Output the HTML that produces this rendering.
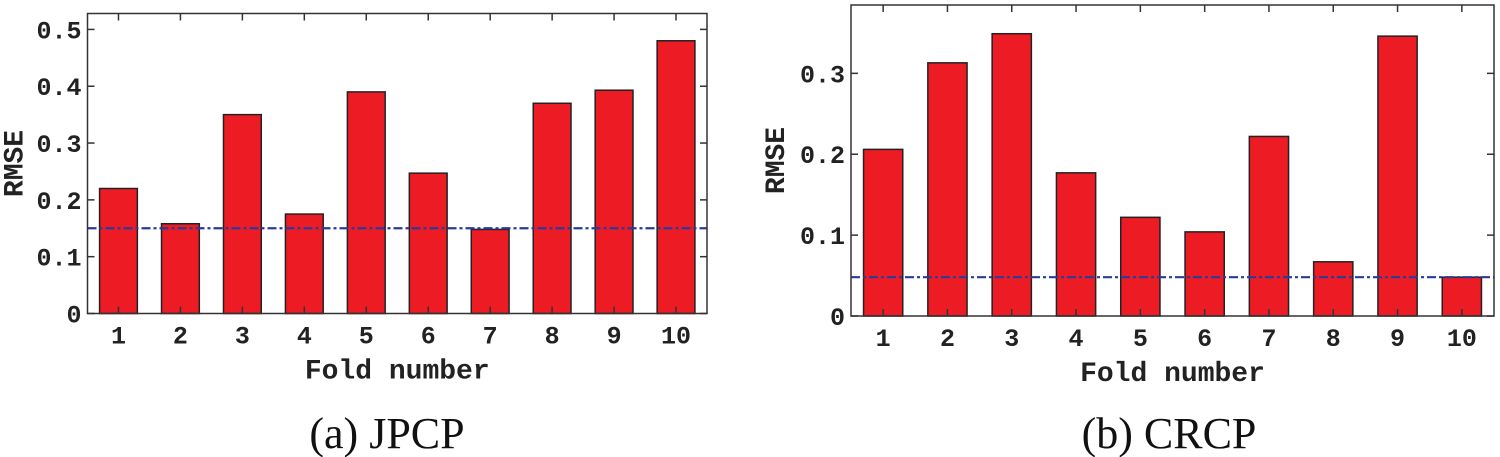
<!DOCTYPE html>
<html><head><meta charset="utf-8"><style>
html,body{margin:0;padding:0;background:#fff;width:1500px;height:457px;overflow:hidden}
svg{display:block}
.tick{font-family:"Liberation Mono","DejaVu Sans Mono",monospace;font-weight:bold;font-size:25px;fill:#222}
.lab{font-family:"Liberation Mono","DejaVu Sans Mono",monospace;font-weight:bold;font-size:28px;fill:#222}
.cap{font-family:"Liberation Serif",serif;font-size:44px;fill:#111}
</style></head><body>
<svg id="c" width="1500" height="457"></svg>
<script>
const categories=["1","2","3","4","5","6","7","8","9","10"];
const jpcpValues=[0.22,0.158,0.35,0.175,0.39,0.247,0.148,0.37,0.393,0.48];
const jpcpRef=0.15;
const jpcpTicks=[0,0.1,0.2,0.3,0.4,0.5];
const jpcpTickLabels=["0","0.1","0.2","0.3","0.4","0.5"];
const crcpValues=[0.206,0.313,0.349,0.177,0.122,0.104,0.222,0.067,0.346,0.048];
const crcpRef=0.048;
const crcpTicks=[0,0.1,0.2,0.3];
const crcpTickLabels=["0","0.1","0.2","0.3"];
const NS="http://www.w3.org/2000/svg";
const svg=document.getElementById('c');
function mk(tag,attrs,parent){const e=document.createElementNS(NS,tag);for(const k in attrs)e.setAttribute(k,attrs[k]);(parent||svg).appendChild(e);return e;}
function panel(id,L,R,T,B,ymax,vals,ref,ticks,tlabs,caption,capX){
  const g=mk('g',{});
  
  
  const n=categories.length;
  const x=i=>L+(i+0.5)*(R-L)/n;
  const y=v=>B-v/ymax*(B-T);
  const bw=(R-L)/n*0.61;
  vals.forEach((v,i)=>{
    const r=mk('rect',{x:x(i)-bw/2,y:y(v),width:bw,height:B-y(v),fill:'#ed1c24',stroke:'#222','stroke-width':1.5},g);
    
    
  });
  const ln=mk('line',{x1:L,x2:R,y1:y(ref),y2:y(ref),stroke:'#2a3a9c','stroke-width':2.2,'stroke-dasharray':'9,3,3,3'},g);
  
  
  const box=mk('rect',{x:L,y:T,width:R-L,height:B-T,fill:'none',stroke:'#333','stroke-width':1.5},g);
  
  
  categories.forEach((c,i)=>{
    mk('line',{x1:x(i),x2:x(i),y1:B,y2:B-7,stroke:'#333','stroke-width':1.5},g);
    mk('line',{x1:x(i),x2:x(i),y1:T,y2:T+7,stroke:'#333','stroke-width':1.5},g);
    const t=mk('text',{x:x(i),y:B+30,'text-anchor':'middle',class:'tick'},g);
    t.textContent=c;
    
    
  });
  ticks.forEach((v,i)=>{
    mk('line',{x1:L,x2:L+7,y1:y(v),y2:y(v),stroke:'#333','stroke-width':1.5},g);
    mk('line',{x1:R,x2:R-7,y1:y(v),y2:y(v),stroke:'#333','stroke-width':1.5},g);
    const t=mk('text',{x:L-6,y:y(v)+9,'text-anchor':'end',class:'tick'},g);
    t.textContent=tlabs[i];
    
    
  });
  const xt=mk('text',{x:(L+R)/2,y:B+65,'text-anchor':'middle',class:'lab'},g);
  xt.textContent='Fold number';
  
  
  const yx=L-(id==='jpcp'?65:67), yy=(T+B)/2;
  const yt=mk('text',{x:yx,y:yy,'text-anchor':'middle',class:'lab',transform:'rotate(-90 '+yx+' '+yy+')'},g);
  yt.textContent='RMSE';
  
  
  const cp=mk('text',{x:capX,y:448,'text-anchor':'middle',class:'cap'},g);
  cp.textContent=caption;
  
  
}
panel('jpcp',87.5,707,13.5,313.5,0.528,jpcpValues,jpcpRef,jpcpTicks,jpcpTickLabels,'(a) JPCP',387);
panel('crcp',851,1494,5,316,0.3845,crcpValues,crcpRef,crcpTicks,crcpTickLabels,'(b) CRCP',1169);
</script>
</body></html>
